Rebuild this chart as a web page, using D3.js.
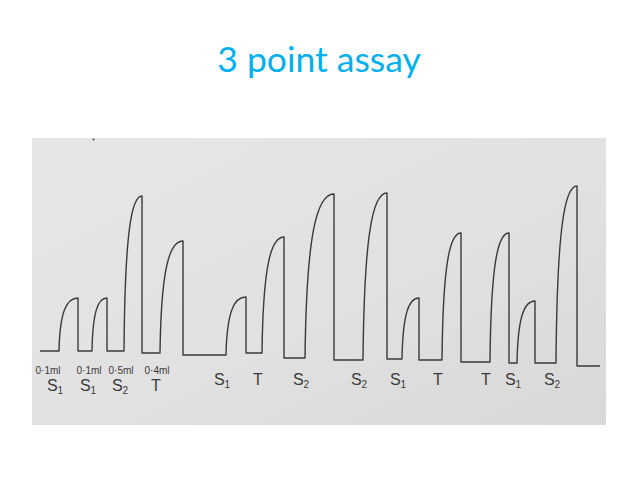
<!DOCTYPE html>
<html>
    <head>
        <script src="https://d3js.org/d3.v7.min.js" charset="utf-8"></script>
        <style type="text/css">
            html, body {
                width: 100%;
                height: 100%;
                margin: 0;
                padding: 0;
                background: #ffffff;
            }
            svg {
                display: block;
            }
            .title {
                font-family: Lato, "Open Sans", sans-serif;
                fill: #00b0f0;
            }
            .trace {
                fill: none;
                stroke: #3a3a3a;
                stroke-width: 1.4px;
                stroke-linejoin: round;
            }
            .lbl {
                font-family: "Liberation Sans", "DejaVu Sans", sans-serif;
                fill: #3a3a3a;
            }
        </style>
    </head>
    <body>
        <div id="chart"></div>

        <script>
            // kymograph trace, time in mm of drum travel, response in mm of lever rise
            var peakNames = ["S1", "S1", "S2", "T", "S1", "T", "S2", "S2", "S1", "T", "T", "S1", "S2"];
            var doses = ["0·1ml", "0·1ml", "0·5ml", "0·4ml", "", "", "", "", "", "", "", "", ""];
            var onsets = [19, 52, 84, 120, 186, 222, 265, 323, 362, 402, 450, 477, 516];
            var peakEnds = [38, 67, 102, 143, 206, 244, 294, 347, 379, 421, 469, 495, 537];
            var responses = [53, 53, 155, 112, 58, 116, 164, 167, 61, 127, 129, 62, 177];
            // baseline drift before each peak, plus the tail after the last one
            var drift = [0, 0, 0, -2, -4, -2, -7, -9, -8, -9, -11, -12, -12, -15];
            var traceEnd = 560;

            var W = 638, H = 478;

            var svg = d3.select("#chart").append("svg")
                .attr("width", W)
                .attr("height", H);

            var grad = svg.append("defs").append("linearGradient")
                .attr("id", "paper")
                .attr("x1", "0").attr("y1", "0")
                .attr("x2", "1").attr("y2", "1");
            grad.append("stop").attr("offset", "0%").attr("stop-color", "#e6e6e6");
            grad.append("stop").attr("offset", "55%").attr("stop-color", "#e1e1e1");
            grad.append("stop").attr("offset", "100%").attr("stop-color", "#d8d8d8");

            svg.append("text")
                .attr("class", "title")
                .attr("x", 319)
                .attr("y", 72)
                .attr("text-anchor", "middle")
                .style("font-size", "35.5px")
                .text("3 point assay");

            // scanned paper
            svg.append("rect")
                .attr("x", 32)
                .attr("y", 138)
                .attr("width", 574)
                .attr("height", 287)
                .attr("fill", "url(#paper)");

            svg.append("circle")
                .attr("cx", 93.5)
                .attr("cy", 139.5)
                .attr("r", 1)
                .attr("fill", "#444");

            var x = d3.scaleLinear().domain([0, traceEnd]).range([40, 600]);
            var y = d3.scaleLinear().domain([-20, 180]).range([371, 171]);

            var p = d3.path();
            p.moveTo(x(0), y(drift[0]));
            for (var i = 0; i < onsets.length; i++) {
                var x0 = x(onsets[i]), x1 = x(peakEnds[i]);
                var yb = y(drift[i]);
                var yt = y(drift[i] + responses[i]);
                var w = x1 - x0, h = yb - yt;
                p.lineTo(x0, yb);
                p.bezierCurveTo(x0 + 0.05 * w, yb - 0.75 * h, x0 + 0.4 * w, yt, x1, yt);
                p.lineTo(x1, y(drift[i + 1]));
            }
            p.lineTo(x(traceEnd), y(drift[drift.length - 1]));

            svg.append("path")
                .attr("class", "trace")
                .attr("d", p.toString());

            // dose labels under the first group
            svg.selectAll("text.dose")
                .data(doses.map(function (d, i) { return {dose: d, t: onsets[i]}; })
                    .filter(function (d) { return d.dose; }))
              .enter().append("text")
                .attr("class", "lbl dose")
                .attr("x", function (d, i) { return x(d.t) - (i === 0 ? 11 : 3); })
                .attr("y", 374)
                .attr("text-anchor", "middle")
                .style("font-size", "10px")
                .text(function (d) { return d.dose; });

            var names = svg.selectAll("text.name")
                .data(peakNames.map(function (d, i) { return {name: d, t: onsets[i], first: doses[i] !== ""}; }))
              .enter().append("text")
                .attr("class", "lbl name")
                .attr("x", function (d) { return x(d.t) - 4; })
                .attr("y", function (d) { return d.first ? 391 : 385; })
                .attr("text-anchor", "middle")
                .style("font-size", "16px");

            names.append("tspan")
                .text(function (d) { return d.name.charAt(0); });
            names.append("tspan")
                .attr("dy", 3)
                .style("font-size", "10px")
                .text(function (d) { return d.name.slice(1); });
        </script>
    </body>
</html>
